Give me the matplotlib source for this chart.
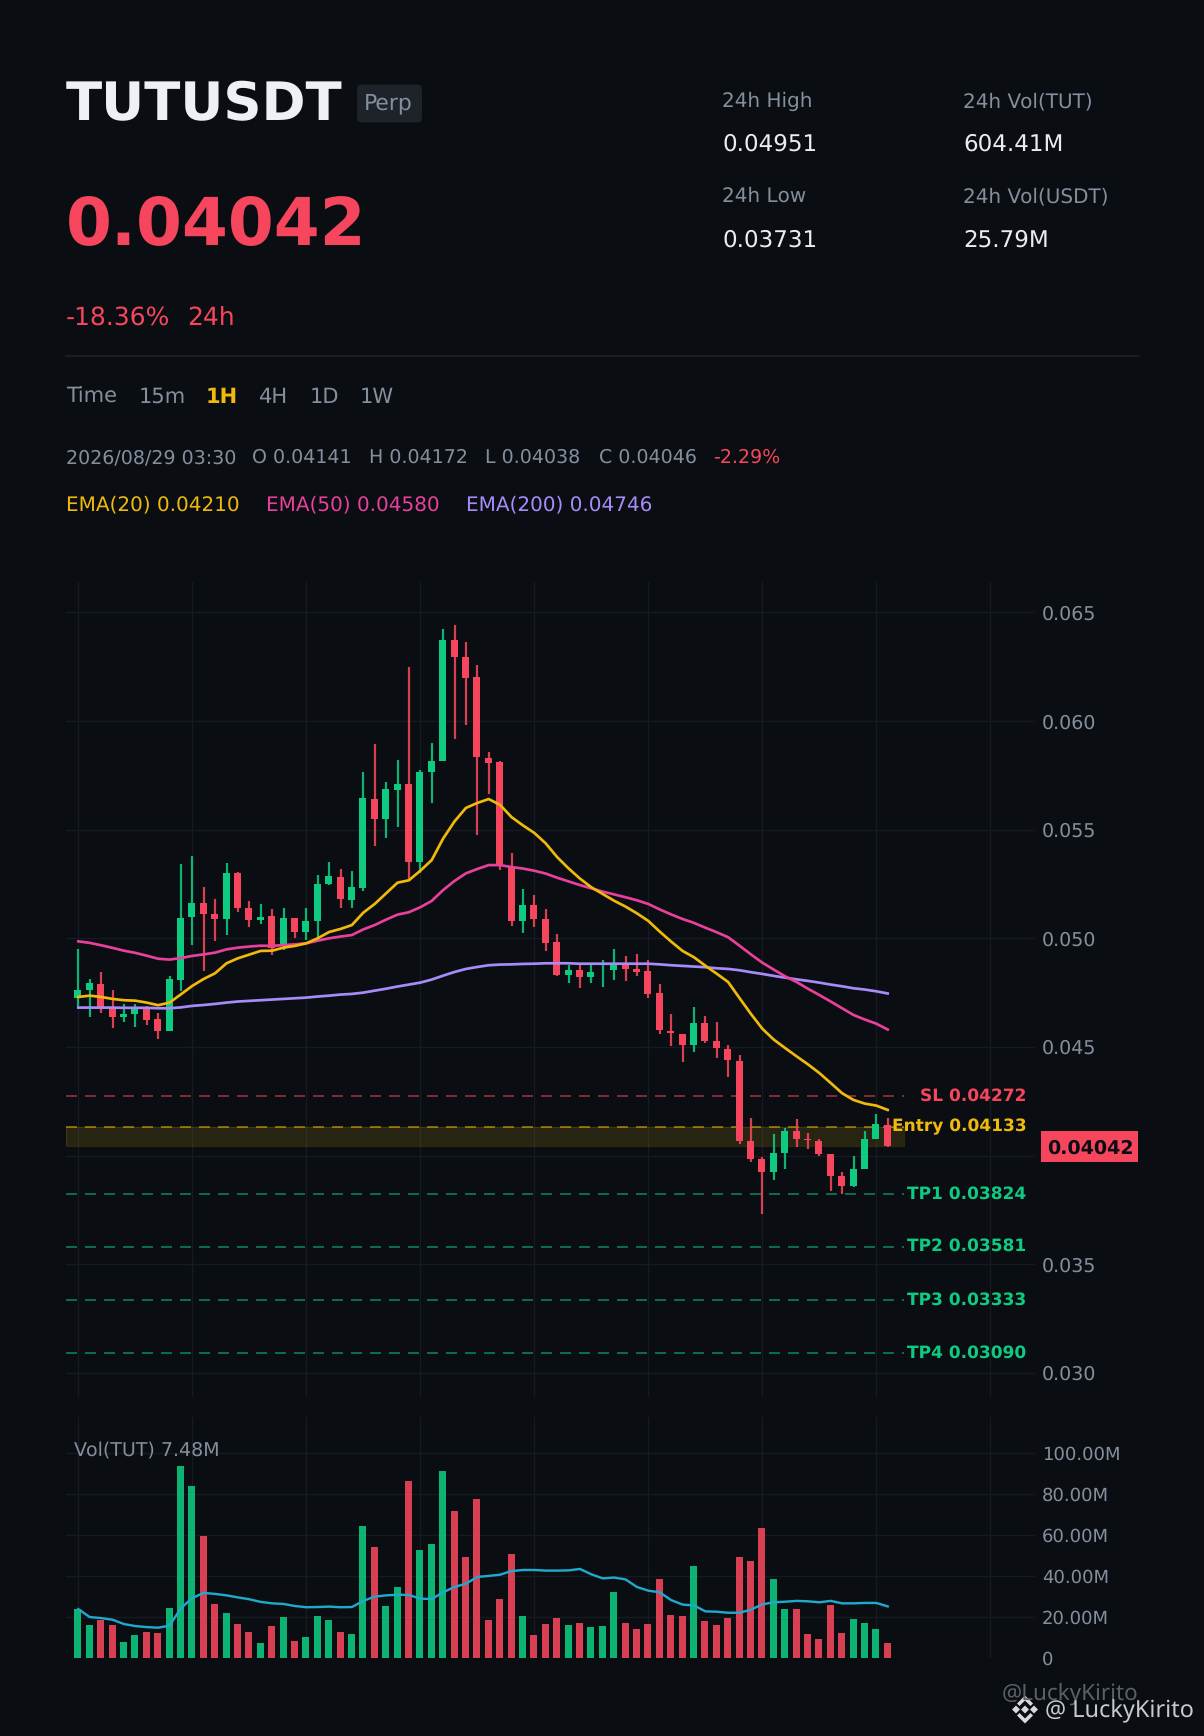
import matplotlib
matplotlib.use("Agg")
import matplotlib.pyplot as plt
from matplotlib.patches import FancyBboxPatch, Polygon, Rectangle

plt.rcParams['font.family'] = ['DejaVu Sans']
plt.rcParams['lines.scale_dashes'] = False
plt.rcParams['text.hinting'] = 'no_hinting'
plt.rcParams['text.hinting_factor'] = 1

# ---------- data ----------
opens = [.04727,.04762,.04790,.04686,.04640,.04652,.04686,.04629,.04575,.04810,.05098,.05163,
         .05112,.05089,.05301,.05140,.05084,.05103,.04969,.05094,.05029,.05080,.05250,.05282,
         .05176,.05232,.05641,.05549,.05683,.05710,.05351,.05765,.05816,.06373,.06295,.06203,
         .05830,.05811,.05333,.05080,.05153,.05089,.04983,.04831,.04854,.04822,.04880,.04854,
         .04877,.04859,.04850,.04748,.04573,.04560,.04509,.04610,.04529,.04492,.04437,.04069,
         .03986,.03922,.04014,.04115,.04074,.04069,.04005,.03908,.03862,.03940,.04078,.04141]
highs = [.04951,.04811,.04845,.04762,.04698,.04698,.04690,.04656,.04827,.05342,.05379,.05236,
         .05181,.05347,.05305,.05172,.05158,.05135,.05140,.05094,.05140,.05291,.05351,.05319,
         .05310,.05765,.05894,.05719,.05821,.06249,.05775,.05899,.06424,.06442,.06364,.06258,
         .05858,.05816,.05393,.05227,.05199,.05135,.05020,.04877,.04877,.04877,.04900,.04951,
         .04919,.04928,.04900,.04790,.04652,.04560,.04684,.04643,.04617,.04511,.04465,.04175,
         .03995,.04101,.04129,.04166,.04106,.04074,.04005,.03922,.04000,.04115,.04189,.04172]
lows = [.04686,.04640,.04658,.04589,.04616,.04593,.04603,.04538,.04575,.04758,.04969,.04851,
        .04988,.05015,.05121,.05052,.05066,.04923,.04946,.05002,.04992,.05000,.05245,.05140,
        .05140,.05218,.05425,.05462,.05512,.05268,.05301,.05623,.05816,.05917,.05982,.05476,
        .05664,.05314,.05057,.05025,.05052,.04942,.04827,.04794,.04771,.04794,.04776,.04808,
        .04804,.04827,.04725,.04560,.04505,.04430,.04477,.04518,.04451,.04363,.04051,.03972,
        .03733,.03889,.03940,.04041,.04032,.04000,.03839,.03825,.03857,.03940,.04074,.04038]
closes = [.04762,.04794,.04686,.04640,.04652,.04686,.04624,.04575,.04813,.05094,.05163,.05112,
          .05089,.05301,.05140,.05084,.05098,.04956,.05094,.05029,.05080,.05250,.05287,.05181,
          .05236,.05646,.05549,.05687,.05710,.05351,.05765,.05816,.06373,.06295,.06198,.05834,
          .05807,.05333,.05080,.05153,.05089,.04979,.04831,.04854,.04822,.04845,.04885,.04877,
          .04859,.04845,.04744,.04578,.04564,.04509,.04610,.04528,.04497,.04442,.04069,.03982,
          .03922,.04014,.04115,.04074,.04071,.04005,.03908,.03862,.03940,.04078,.04143,.04042]
ema20 = [.04730,.04736,.04730,.04721,.04715,.04713,.04704,.04692,.04704,.04742,.04781,.04813,
         .04839,.04885,.04908,.04925,.04942,.04943,.04957,.04965,.04977,.05000,.05029,.05043,
         .05061,.05118,.05158,.05207,.05256,.05267,.05311,.05360,.05459,.05538,.05600,.05623,
         .05641,.05614,.05558,.05520,.05485,.05437,.05374,.05322,.05275,.05235,.05204,.05173,
         .05146,.05115,.05080,.05031,.04985,.04942,.04913,.04874,.04837,.04799,.04725,.04652,
         .04584,.04534,.04495,.04457,.04420,.04380,.04334,.04287,.04256,.04239,.04230,.04210]
ema50 = [.04986,.04979,.04968,.04956,.04943,.04933,.04920,.04906,.04902,.04909,.04919,.04926,
         .04934,.04949,.04957,.04962,.04966,.04965,.04969,.04972,.04977,.04989,.05000,.05008,
         .05015,.05041,.05061,.05086,.05109,.05120,.05143,.05172,.05222,.05264,.05299,.05319,
         .05337,.05337,.05328,.05321,.05311,.05298,.05279,.05262,.05245,.05230,.05215,.05202,
         .05189,.05175,.05158,.05133,.05110,.05089,.05071,.05049,.05028,.05005,.04966,.04926,
         .04888,.04856,.04825,.04799,.04768,.04739,.04709,.04678,.04647,.04626,.04607,.04580]
ema200 = [.04681,.04681,.04681,.04681,.04680,.04680,.04680,.04678,.04678,.04682,.04689,.04693,
          .04698,.04704,.04709,.04712,.04715,.04718,.04721,.04724,.04727,.04732,.04736,.04741,
          .04744,.04750,.04759,.04768,.04778,.04787,.04796,.04810,.04828,.04845,.04859,.04868,
          .04876,.04879,.04880,.04882,.04883,.04885,.04885,.04885,.04883,.04883,.04883,.04883,
          .04883,.04883,.04883,.04880,.04876,.04873,.04870,.04867,.04862,.04859,.04853,.04844,
          .04836,.04827,.04819,.04811,.04804,.04796,.04787,.04779,.04770,.04764,.04756,.04746]
volumes = [23.9,16.1,18.6,16.1,7.8,11.2,12.7,12.2,24.4,93.8,84.0,59.6,
           26.4,22.0,16.6,12.7,7.3,15.6,19.9,8.3,10.3,20.5,18.6,12.7,
           11.7,64.5,54.2,25.4,34.7,86.5,52.8,55.7,91.4,71.8,49.3,77.7,
           18.6,28.8,50.8,20.5,11.2,16.6,19.5,16.1,17.1,15.1,15.6,32.2,
           17.1,14.2,16.6,38.6,21.0,20.5,45.0,18.1,16.1,19.5,49.3,47.4,
           63.5,38.6,23.9,23.9,11.7,9.3,25.9,12.2,19.1,17.1,14.2,7.48]
vol_ma = [23.9,20.0,19.5,18.7,16.6,15.6,15.1,14.8,15.8,24.3,29.3,31.8,
          31.3,30.6,29.6,28.7,27.4,26.7,26.4,25.4,24.8,24.9,25.1,24.8,
          24.9,27.9,30.0,30.6,30.9,30.8,29.0,28.8,32.1,34.7,36.3,39.6,
          40.1,40.7,42.5,43.0,43.0,42.7,42.7,42.8,43.5,40.9,38.9,39.3,
          38.4,34.7,32.9,32.1,28.3,26.1,25.7,22.8,22.6,22.1,22.1,23.6,
          26.2,27.2,27.5,27.9,27.7,27.2,27.9,26.7,26.7,26.9,26.9,25.2]
price_ticks = [0.030, 0.035, 0.040, 0.045, 0.050, 0.055, 0.060, 0.065]
price_labels = ['0.030', '0.035', '', '0.045', '0.050', '0.055', '0.060', '0.065']
vol_ticks = [0, 20, 40, 60, 80, 100]
vol_labels = ['0', '20.00M', '40.00M', '60.00M', '80.00M', '100.00M']
level_names = ['SL', 'Entry', 'TP1', 'TP2', 'TP3', 'TP4']
level_values = [0.04272, 0.04133, 0.03824, 0.03581, 0.03333, 0.03090]
last_price = 0.04042

# ---------- style ----------
W, H = 1204, 1736
BG = '#0a0e12'
GRID = '#161a21'
GREEN = '#0ECB81'
RED = '#F6465D'
GOLD = '#F0B90B'
PINK = '#E8409B'
PURPLE = '#A78BFA'
TEAL = '#1FA9CB'
GREY = '#848E9C'
WHITE = '#EAECEF'
LEVEL_COLORS = [RED, GOLD, GREEN, GREEN, GREEN, GREEN]

fig = plt.figure(figsize=(W / 100, H / 100), dpi=100, facecolor=BG)


def px(s):
    return s * 0.72


def T(x, y, s, size, color, weight='normal', **kw):
    return fig.text(x / W, 1 - y / H, s, fontsize=px(size), color=color,
                    fontweight=weight, va='baseline', ha=kw.pop('ha', 'left'), **kw)


def axes_px(l, t, r, b):
    ax = fig.add_axes([l / W, 1 - b / H, (r - l) / W, (b - t) / H], facecolor='none')
    for s in ax.spines.values():
        s.set_visible(False)
    ax.tick_params(length=0, pad=0)
    ax.set_xlim((l - 78.3) / 11.4, (r - 78.3) / 11.4)
    ax.set_xticks(range(0, 90, 10))
    ax.set_xticklabels([])
    ax.grid(True, color=GRID, linewidth=px(1.4))
    ax.set_axisbelow(True)
    return ax


# ---------- header ----------
T(66, 120, 'TUTUSDT', 52.5, '#EEF0F3', 'bold')
fig.patches.append(FancyBboxPatch((357 / W, 1 - 122.5 / H), 65 / W, 38 / H,
                                  boxstyle='round,pad=0,rounding_size=0.004',
                                  mutation_aspect=W / H, transform=fig.transFigure,
                                  facecolor='#1E2329', edgecolor='none', figure=fig))
T(364, 109, 'Perp', 22, GREY)
T(66, 245, '0.04042', 66, RED, 'bold')
T(66, 325, '-18.36%', 25.3, RED)
T(187, 325, '24h', 25.3, RED)

T(722, 107, '24h High', 20.2, GREY)
T(722, 151, '0.04951', 23.5, WHITE)
T(722, 202, '24h Low', 20.2, GREY)
T(722, 247, '0.03731', 23.5, WHITE)
T(963, 107, '24h Vol(TUT)', 20.2, GREY)
T(963, 151, '604.41M', 23.5, WHITE)
T(963, 202, '24h Vol(USDT)', 20.2, GREY)
T(963, 247, '25.79M', 23.5, WHITE)

fig.add_artist(plt.Line2D([66 / W, 1139 / W], [1 - 356 / H] * 2, color='#1E2329', lw=px(1.6),
                          transform=fig.transFigure))

T(66, 403, 'Time', 20.6, GREY)
T(138.5, 403, '15m', 20.6, GREY)
T(206, 403, '1H', 20.6, GOLD, 'bold')
T(259, 403, '4H', 20.6, GREY)
T(310, 403, '1D', 20.6, GREY)
T(359.5, 403, '1W', 20.6, GREY)

T(66, 463, '2026/08/29 03:30', 19, GREY)
T(252, 463, 'O 0.04141', 19, GREY)
T(369, 463, 'H 0.04172', 19, GREY)
T(485, 463, 'L 0.04038', 19, GREY)
T(599, 463, 'C 0.04046', 19, GREY)
T(713, 463, '-2.29%', 19, RED)

T(66, 510, 'EMA(20) 0.04210', 20.3, GOLD)
T(266, 510, 'EMA(50) 0.04580', 20.3, PINK)
T(466, 510, 'EMA(200) 0.04746', 20.3, PURPLE)

# ---------- price panel ----------
ax = axes_px(66, 582, 1035, 1397)
PPU = 21725.0
ax.set_ylim(0.05 - (1397 - 938.3) / PPU, 0.05 + (938.3 - 582) / PPU)
ax.set_yticks(price_ticks)
ax.yaxis.tick_right()
ax.set_yticklabels(price_labels, fontsize=px(18.9), color=GREY)
ax.tick_params(axis='y', pad=px(7))

xs = list(range(len(opens)))
for i in xs:
    c = GREEN if closes[i] >= opens[i] else RED
    ax.vlines(i, lows[i], highs[i], color=c, linewidth=px(2.2), alpha=0.88, zorder=3)
    ax.bar(i - 0.03, abs(closes[i] - opens[i]), bottom=min(opens[i], closes[i]), width=0.62,
           color=c, linewidth=0, zorder=4)

ax.plot(xs, ema200, color=PURPLE, lw=px(2.7), zorder=5, solid_joinstyle='round')
ax.plot(xs, ema50, color=PINK, lw=px(2.7), zorder=6, solid_joinstyle='round')
ax.plot(xs, ema20, color=GOLD, lw=px(2.7), zorder=7, solid_joinstyle='round')

# horizontal levels span the left part of the panel only
lv_right = (904 - 66) / (1035 - 66)
ax.add_patch(Rectangle((0, level_values[1]), lv_right, last_price - level_values[1],
                       transform=ax.get_yaxis_transform(), facecolor=GOLD, alpha=0.13,
                       edgecolor=GOLD, linewidth=0, zorder=2))
ax.add_patch(Rectangle((0, level_values[1]), lv_right, last_price - level_values[1],
                       transform=ax.get_yaxis_transform(), facecolor='none',
                       edgecolor=(0.94, 0.73, 0.04, 0.14), linewidth=px(1.3), zorder=2))
for name, val, col in zip(level_names, level_values, LEVEL_COLORS):
    ax.plot([0, lv_right], [val, val], transform=ax.get_yaxis_transform(), color=col,
            alpha=0.5, lw=px(2), linestyle=(0, (px(11), px(8))), zorder=2.5)
    ax.annotate(f'{name} {val:.5f}', xy=((1026.5 - 66) / (1035 - 66), val),
                xycoords=('axes fraction', 'data'), xytext=(0, px(-4.6)),
                textcoords='offset points', ha='right', va='baseline', color=col,
                fontsize=px(17.2), fontweight='bold', zorder=8)

# last price tag
fig.patches.append(Rectangle((1041 / W, 1 - 1162 / H), 97 / W, 31 / H, transform=fig.transFigure,
                             facecolor=RED, edgecolor='none', figure=fig))
T(1047, 1153.5, f'{last_price:.5f}', 19, '#0a0e12', 'bold')

# ---------- volume panel ----------
vx = axes_px(66, 1417, 1035, 1658)
vx.set_ylim(0, (1658 - 1417) / 2.047)
vx.set_yticks(vol_ticks)
vx.yaxis.tick_right()
vx.set_yticklabels(vol_labels, fontsize=px(17.8), color=GREY)
vx.tick_params(axis='y', pad=px(7))
vol_colors = [GREEN if closes[i] >= opens[i] else RED for i in xs]
vx.bar([i - 0.03 for i in xs], volumes, width=0.62, color=vol_colors, alpha=0.88,
       linewidth=0, zorder=3)
vx.plot(xs, vol_ma, color=TEAL, lw=px(2.4), zorder=4, solid_joinstyle='round')
T(74, 1456, 'Vol(TUT) 7.48M', 18.6, GREY)

# ---------- watermark ----------
T(1002, 1700, '@LuckyKirito', 22.5, '#5A6068', family=['Noto Sans', 'DejaVu Sans'])
T(1045, 1717, '@ LuckyKirito', 23.5, '#C6CACE', family=['Noto Sans', 'DejaVu Sans'])


def logo(points):
    xy = [((1025 + a) / W, 1 - (1709.5 + b) / H) for a, b in points]
    fig.patches.append(Polygon(xy, closed=True, transform=fig.transFigure,
                               facecolor='#D8DADE', edgecolor='none', figure=fig))


logo([(0, -4), (4, 0), (0, 4), (-4, 0)])
logo([(-9, -4), (-5, 0), (-9, 4), (-13, 0)])
logo([(9, -4), (13, 0), (9, 4), (5, 0)])
logo([(0, -14), (8, -6), (5.5, -3.5), (0, -9), (-5.5, -3.5), (-8, -6)])
logo([(0, 14), (8, 6), (5.5, 3.5), (0, 9), (-5.5, 3.5), (-8, 6)])

fig.savefig('out.png', dpi=100, facecolor=BG)
